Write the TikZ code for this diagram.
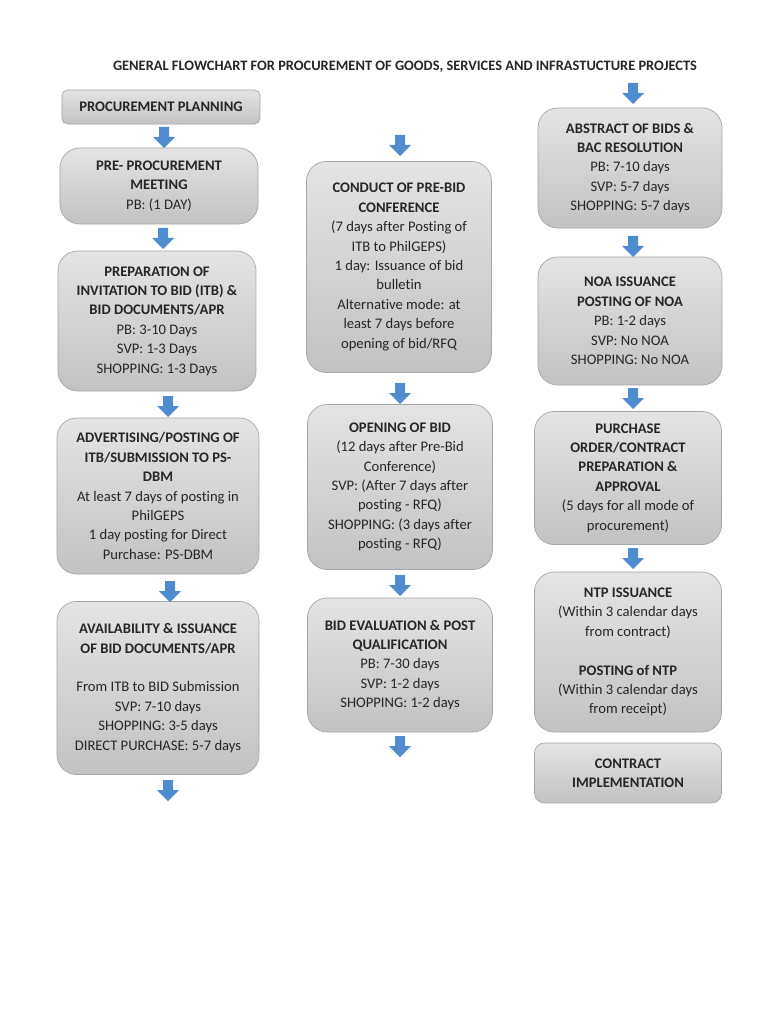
\documentclass[tikz,border=0pt]{standalone}
\usepackage{fontspec}
\setmainfont{Carlito}[Ligatures=NoCommon]
\usepackage{tikz}
\definecolor{boxtop}{HTML}{E4E4E4}
\definecolor{boxbot}{HTML}{C2C2C2}
\definecolor{boxline}{HTML}{A6A6A6}
\definecolor{arrowblue}{HTML}{4F8CCF}
\def\dn{++(-5,-10) -- ++(10,0) -- ++(0,10) -- ++(6,0) -- ++(-11,11) -- ++(-11,-11) -- ++(6,0) -- cycle}
\def\gap{\\[13.8pt]}
\tikzset{
  box/.style={draw=boxline, line width=0.5pt, rounded corners=14pt, top color=boxtop, bottom color=boxbot,
    align=center, inner sep=0pt, text=black!85, font=\fontsize{10.4}{13.8}\selectfont}
}

\begin{document}
\begin{tikzpicture}[x=0.025cm, y=-0.025cm]
\useasboundingbox (0,0) rectangle (768,1024);

\node[font=\fontsize{10.25}{12}\selectfont\bfseries, text=black!85] (title) at (405,67)
  {GENERAL FLOWCHART FOR PROCUREMENT OF GOODS, SERVICES AND INFRASTUCTURE PROJECTS};

% left column
\node[box, rounded corners=4pt, minimum width=4.95cm, minimum height=0.85cm] (plan) at (161,107)
  {\textbf{PROCUREMENT PLANNING}};
\node[box, minimum width=4.95cm, minimum height=1.9cm] (meet) at (159,186)
  {\textbf{PRE- PROCUREMENT}\\\textbf{MEETING}\\PB: (1 DAY)};
\node[box, minimum width=4.95cm, minimum height=3.5cm] (prep) at (157,321)
  {\textbf{PREPARATION OF}\\\textbf{INVITATION TO BID (ITB) \&}\\\textbf{BID DOCUMENTS/APR}\\PB: 3-10 Days\\SVP: 1-3 Days\\SHOPPING: 1-3 Days};
\node[box, minimum width=5.05cm, minimum height=3.9cm] (adv) at (158,496)
  {\textbf{ADVERTISING/POSTING OF}\\\textbf{ITB/SUBMISSION TO PS-}\\\textbf{DBM}\\At least 7 days of posting in\\PhilGEPS\\1 day posting for Direct\\Purchase: PS-DBM};
\node[box, minimum width=5.05cm, minimum height=4.325cm] (avail) at (158,688)
  {\textbf{AVAILABILITY \& ISSUANCE}\\\textbf{OF BID DOCUMENTS/APR}\gap From ITB to BID Submission\\SVP: 7-10 days\\SHOPPING: 3-5 days\\DIRECT PURCHASE: 5-7 days};

% middle column
\node[box, minimum width=4.625cm, minimum height=5.275cm] (conf) at (399,267)
  {\textbf{CONDUCT OF PRE-BID}\\\textbf{CONFERENCE}\\(7 days after Posting of\\ITB to PhilGEPS)\\1 day: Issuance of bid\\bulletin\\Alternative mode: at\\least 7 days before\\opening of bid/RFQ};
\node[box, minimum width=4.625cm, minimum height=4.125cm] (open) at (400,487)
  {\textbf{OPENING OF BID}\\(12 days after Pre-Bid\\Conference)\\SVP: (After 7 days after\\posting - RFQ)\\SHOPPING: (3 days after\\posting - RFQ)};
\node[box, minimum width=4.625cm, minimum height=3.35cm] (eval) at (400,665)
  {\textbf{BID EVALUATION \& POST}\\\textbf{QUALIFICATION}\\PB: 7-30 days\\SVP: 1-2 days\\SHOPPING: 1-2 days};

% right column
\node[box, minimum width=4.6cm, minimum height=3.0cm] (abs) at (630,168)
  {\textbf{ABSTRACT OF BIDS \&}\\\textbf{BAC RESOLUTION}\\PB: 7-10 days\\SVP: 5-7 days\\SHOPPING: 5-7 days};
\node[box, minimum width=4.6cm, minimum height=3.2cm] (noa) at (630,321)
  {\textbf{NOA ISSUANCE}\\\textbf{POSTING OF NOA}\\PB: 1-2 days\\SVP: No NOA\\SHOPPING: No NOA};
\node[box, minimum width=4.675cm, minimum height=3.325cm] (po) at (628,478)
  {\textbf{PURCHASE}\\\textbf{ORDER/CONTRACT}\\\textbf{PREPARATION \&}\\\textbf{APPROVAL}\\(5 days for all mode of\\procurement)};
\node[box, minimum width=4.675cm, minimum height=4.0cm] (ntp) at (628,652)
  {\textbf{NTP ISSUANCE}\\(Within 3 calendar days\\from contract)\gap\textbf{POSTING of NTP}\\(Within 3 calendar days\\from receipt)};
\node[box, rounded corners=7pt, minimum width=4.675cm, minimum height=1.5cm] (impl) at (628,773)
  {\textbf{CONTRACT}\\\textbf{IMPLEMENTATION}};

% block arrows
\foreach \p in {(164,137), (163,238), (168,406), (170,591), (168,790),
                (400,145), (400,393), (400,585), (400,746),
                (633,93), (633,246), (633,398), (633,558)}{
  \fill[arrowblue] \p \dn;
}
\end{tikzpicture}
\end{document}
